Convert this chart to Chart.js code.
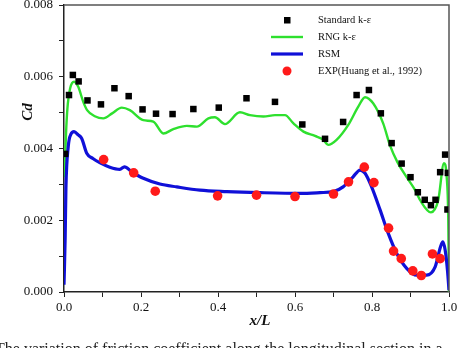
<!DOCTYPE html>
<html>
<head>
<meta charset="utf-8">
<script src="https://cdn.jsdelivr.net/npm/chart.js@4/dist/chart.umd.min.js"></script>
<style>
  html, body { margin: 0; padding: 0; background: #fff; overflow: hidden; }
  #wrap { position: relative; width: 474px; height: 348px; overflow: hidden; }
  #caption {
    position: absolute; left: -5px; top: 340px;
    font: 16px "Liberation Serif", serif; color: #222; white-space: nowrap;
  }
</style>
</head>
<body>
<div id="wrap">
  <canvas id="cd" width="474" height="348"></canvas>
  <div id="caption">The variation of friction coefficient along the longitudinal section in a</div>
</div>
<script>
// Cd along x/L, three turbulence models against the measured points

const STD_X = [0.003, 0.013, 0.023, 0.038, 0.061, 0.096, 0.131, 0.168, 0.204, 0.239, 0.282, 0.336,
  0.402, 0.474, 0.548, 0.619, 0.678, 0.725, 0.760, 0.792, 0.823, 0.851, 0.877, 0.900, 0.919, 0.937,
  0.953, 0.965, 0.977, 0.990, 0.997, 0.996]
const STD_Y = [0.00385, 0.00549, 0.00605, 0.00587, 0.00534, 0.00523, 0.00568, 0.00546, 0.00509, 0.00497,
  0.00496, 0.00510, 0.00514, 0.00540, 0.00530, 0.00467, 0.00427, 0.00474, 0.00549, 0.00563, 0.00498,
  0.00415, 0.00358, 0.00320, 0.00278, 0.00257, 0.00242, 0.00257, 0.00334, 0.00383, 0.00332, 0.00230]

const RNG_X = [0.000, 0.003, 0.006, 0.010, 0.016, 0.026, 0.037, 0.050, 0.060, 0.080, 0.102, 0.125, 0.150,
  0.171, 0.206, 0.232, 0.258, 0.284, 0.319, 0.345, 0.375, 0.392, 0.418, 0.457, 0.483, 0.518, 0.548,
  0.574, 0.596, 0.622, 0.652, 0.674, 0.686, 0.708, 0.738, 0.764, 0.782, 0.803, 0.829, 0.847, 0.866,
  0.890, 0.912, 0.925, 0.953, 0.972, 0.987, 0.994, 0.998, 1.000]
const RNG_Y = [0.00320, 0.00377, 0.00460, 0.00526, 0.00568, 0.00586, 0.00572, 0.00530, 0.00507, 0.00490,
  0.00484, 0.00498, 0.00514, 0.00507, 0.00479, 0.00475, 0.00442, 0.00454, 0.00463, 0.00461, 0.00484,
  0.00487, 0.00468, 0.00501, 0.00493, 0.00489, 0.00493, 0.00493, 0.00470, 0.00447, 0.00435, 0.00424,
  0.00410, 0.00424, 0.00465, 0.00516, 0.00543, 0.00526, 0.00470, 0.00408, 0.00362, 0.00320, 0.00284,
  0.00256, 0.00222, 0.00256, 0.00359, 0.00321, 0.00210, 0.00000]

const RSM_X = [0.000, 0.003, 0.005, 0.011, 0.018, 0.026, 0.037, 0.046, 0.059, 0.075, 0.094, 0.119, 0.145,
  0.157, 0.176, 0.206, 0.249, 0.293, 0.353, 0.423, 0.509, 0.613, 0.665, 0.700, 0.725, 0.751, 0.769,
  0.782, 0.799, 0.821, 0.842, 0.864, 0.890, 0.916, 0.942, 0.964, 0.978, 0.984, 0.990, 0.996, 1.000]
const RSM_Y = [0.00020, 0.00150, 0.00290, 0.00405, 0.00440, 0.00447, 0.00438, 0.00428, 0.00387, 0.00372,
  0.00360, 0.00348, 0.00342, 0.00349, 0.00335, 0.00317, 0.00301, 0.00293, 0.00284, 0.00280, 0.00277,
  0.00275, 0.00277, 0.00280, 0.00293, 0.00321, 0.00340, 0.00331, 0.00293, 0.00229, 0.00164, 0.00108,
  0.00066, 0.00047, 0.00047, 0.00070, 0.00126, 0.00140, 0.00117, 0.00061, 0.00005]

const EXP_X = [0.103, 0.181, 0.237, 0.399, 0.500, 0.600, 0.700, 0.739, 0.780, 0.805, 0.843, 0.856,
  0.876, 0.906, 0.928, 0.957, 0.977]
const EXP_Y = [0.00369, 0.00332, 0.00281, 0.00268, 0.00270, 0.00266, 0.00273, 0.00307, 0.00348, 0.00305,
  0.00178, 0.00114, 0.00093, 0.00059, 0.00046, 0.00106, 0.00093]

const LEGEND = ["Standard k-\u03b5", "RNG k-\u03b5", "RSM", "EXP(Huang et al., 1992)"]

const C_STD = "#000000"
const C_RNG = "#2ee02e"
const C_RSM = "#1010d8"
const C_EXP = "#ff1a1a"
const C_AXIS = "#222222"
const SERIF = "'Liberation Serif', 'Times New Roman', serif"

const pts = (xs, ys) => xs.map((x, i) => ({ x: x, y: ys[i] }))

// frame on top/right, axis titles and the little legend box
const decor = {
  id: "decor",
  afterDraw(chart) {
    const ctx = chart.ctx
    const a = chart.chartArea
    ctx.save()
    ctx.strokeStyle = "#555"
    ctx.lineWidth = 1.5
    ctx.beginPath()
    ctx.moveTo(a.left, a.top)
    ctx.lineTo(a.right, a.top)
    ctx.lineTo(a.right, a.bottom)
    ctx.stroke()

    ctx.fillStyle = "#111"
    ctx.font = "italic bold 15px " + SERIF
    ctx.textAlign = "center"
    ctx.textBaseline = "middle"
    ctx.fillText("x/L", 260, 321)
    ctx.save()
    ctx.translate(28, 112)
    ctx.rotate(-Math.PI / 2)
    ctx.fillText("Cd", 0, 0)
    ctx.restore()

    // legend
    const lx = 287, tx = 318, y0 = 20, dy = 17
    ctx.font = "10.5px " + SERIF
    ctx.textAlign = "left"
    LEGEND.forEach((t, i) => ctx.fillText(t, tx, y0 + i * dy))
    ctx.fillStyle = C_STD
    ctx.fillRect(lx - 3, y0 - 3, 6.5, 6.5)
    ctx.lineWidth = 2.4
    ctx.strokeStyle = C_RNG
    ctx.beginPath(); ctx.moveTo(271, y0 + dy); ctx.lineTo(303, y0 + dy); ctx.stroke()
    ctx.lineWidth = 3.2
    ctx.strokeStyle = C_RSM
    ctx.beginPath(); ctx.moveTo(271, y0 + 2 * dy); ctx.lineTo(303, y0 + 2 * dy); ctx.stroke()
    ctx.fillStyle = C_EXP
    ctx.beginPath(); ctx.arc(lx, y0 + 3 * dy, 4.5, 0, Math.PI * 2); ctx.fill()
    ctx.restore()
  }
}

new Chart(document.getElementById("cd"), {
  type: "scatter",
  data: {
    datasets: [
      { label: LEGEND[3], data: pts(EXP_X, EXP_Y), pointStyle: "circle", pointRadius: 4.8,
        backgroundColor: C_EXP, borderWidth: 0 },
      { label: LEGEND[0], data: pts(STD_X, STD_Y), pointStyle: "rect", pointRadius: 4.6,
        backgroundColor: C_STD, borderWidth: 0 },
      { label: LEGEND[2], data: pts(RSM_X, RSM_Y), showLine: true, pointRadius: 0,
        borderColor: C_RSM, borderWidth: 3.2, cubicInterpolationMode: "monotone" },
      { label: LEGEND[1], data: pts(RNG_X, RNG_Y), showLine: true, pointRadius: 0,
        borderColor: C_RNG, borderWidth: 2.4, cubicInterpolationMode: "monotone" }
    ]
  },
  options: {
    responsive: false,
    animation: false,
    layout: { autoPadding: false, padding: { left: 0, top: 5, right: 25, bottom: 0 } },
    plugins: { legend: { display: false }, tooltip: { enabled: false } },
    scales: {
      x: {
        type: "linear", min: 0, max: 1,
        afterFit: s => { s.height = 56; s.paddingLeft = 0; s.paddingRight = 0 },
        grid: { drawOnChartArea: false, tickLength: 5, tickColor: C_AXIS },
        border: { color: C_AXIS, width: 1.5 },
        ticks: {
          stepSize: 0.1, padding: 3, color: "#111", font: { family: SERIF, size: 13 },
          autoSkip: false, maxRotation: 0,
          callback: v => Math.round(v * 10) % 2 === 0 ? v.toFixed(1) : ""
        }
      },
      y: {
        type: "linear", min: 0, max: 0.008,
        // fixed gutter, and no extra room for the half label at the top
        afterFit: s => { s.width = 64; s.paddingTop = 0; s.paddingBottom = 0 },
        grid: { drawOnChartArea: false, tickLength: 5, tickColor: C_AXIS },
        border: { color: C_AXIS, width: 1.5 },
        ticks: {
          stepSize: 0.001, padding: 6, color: "#111", font: { family: SERIF, size: 13 },
          autoSkip: false,
          callback: v => Math.round(v * 1000) % 2 === 0 ? v.toFixed(3) : ""
        }
      }
    }
  },
  plugins: [decor]
})
</script>
</body>
</html>
